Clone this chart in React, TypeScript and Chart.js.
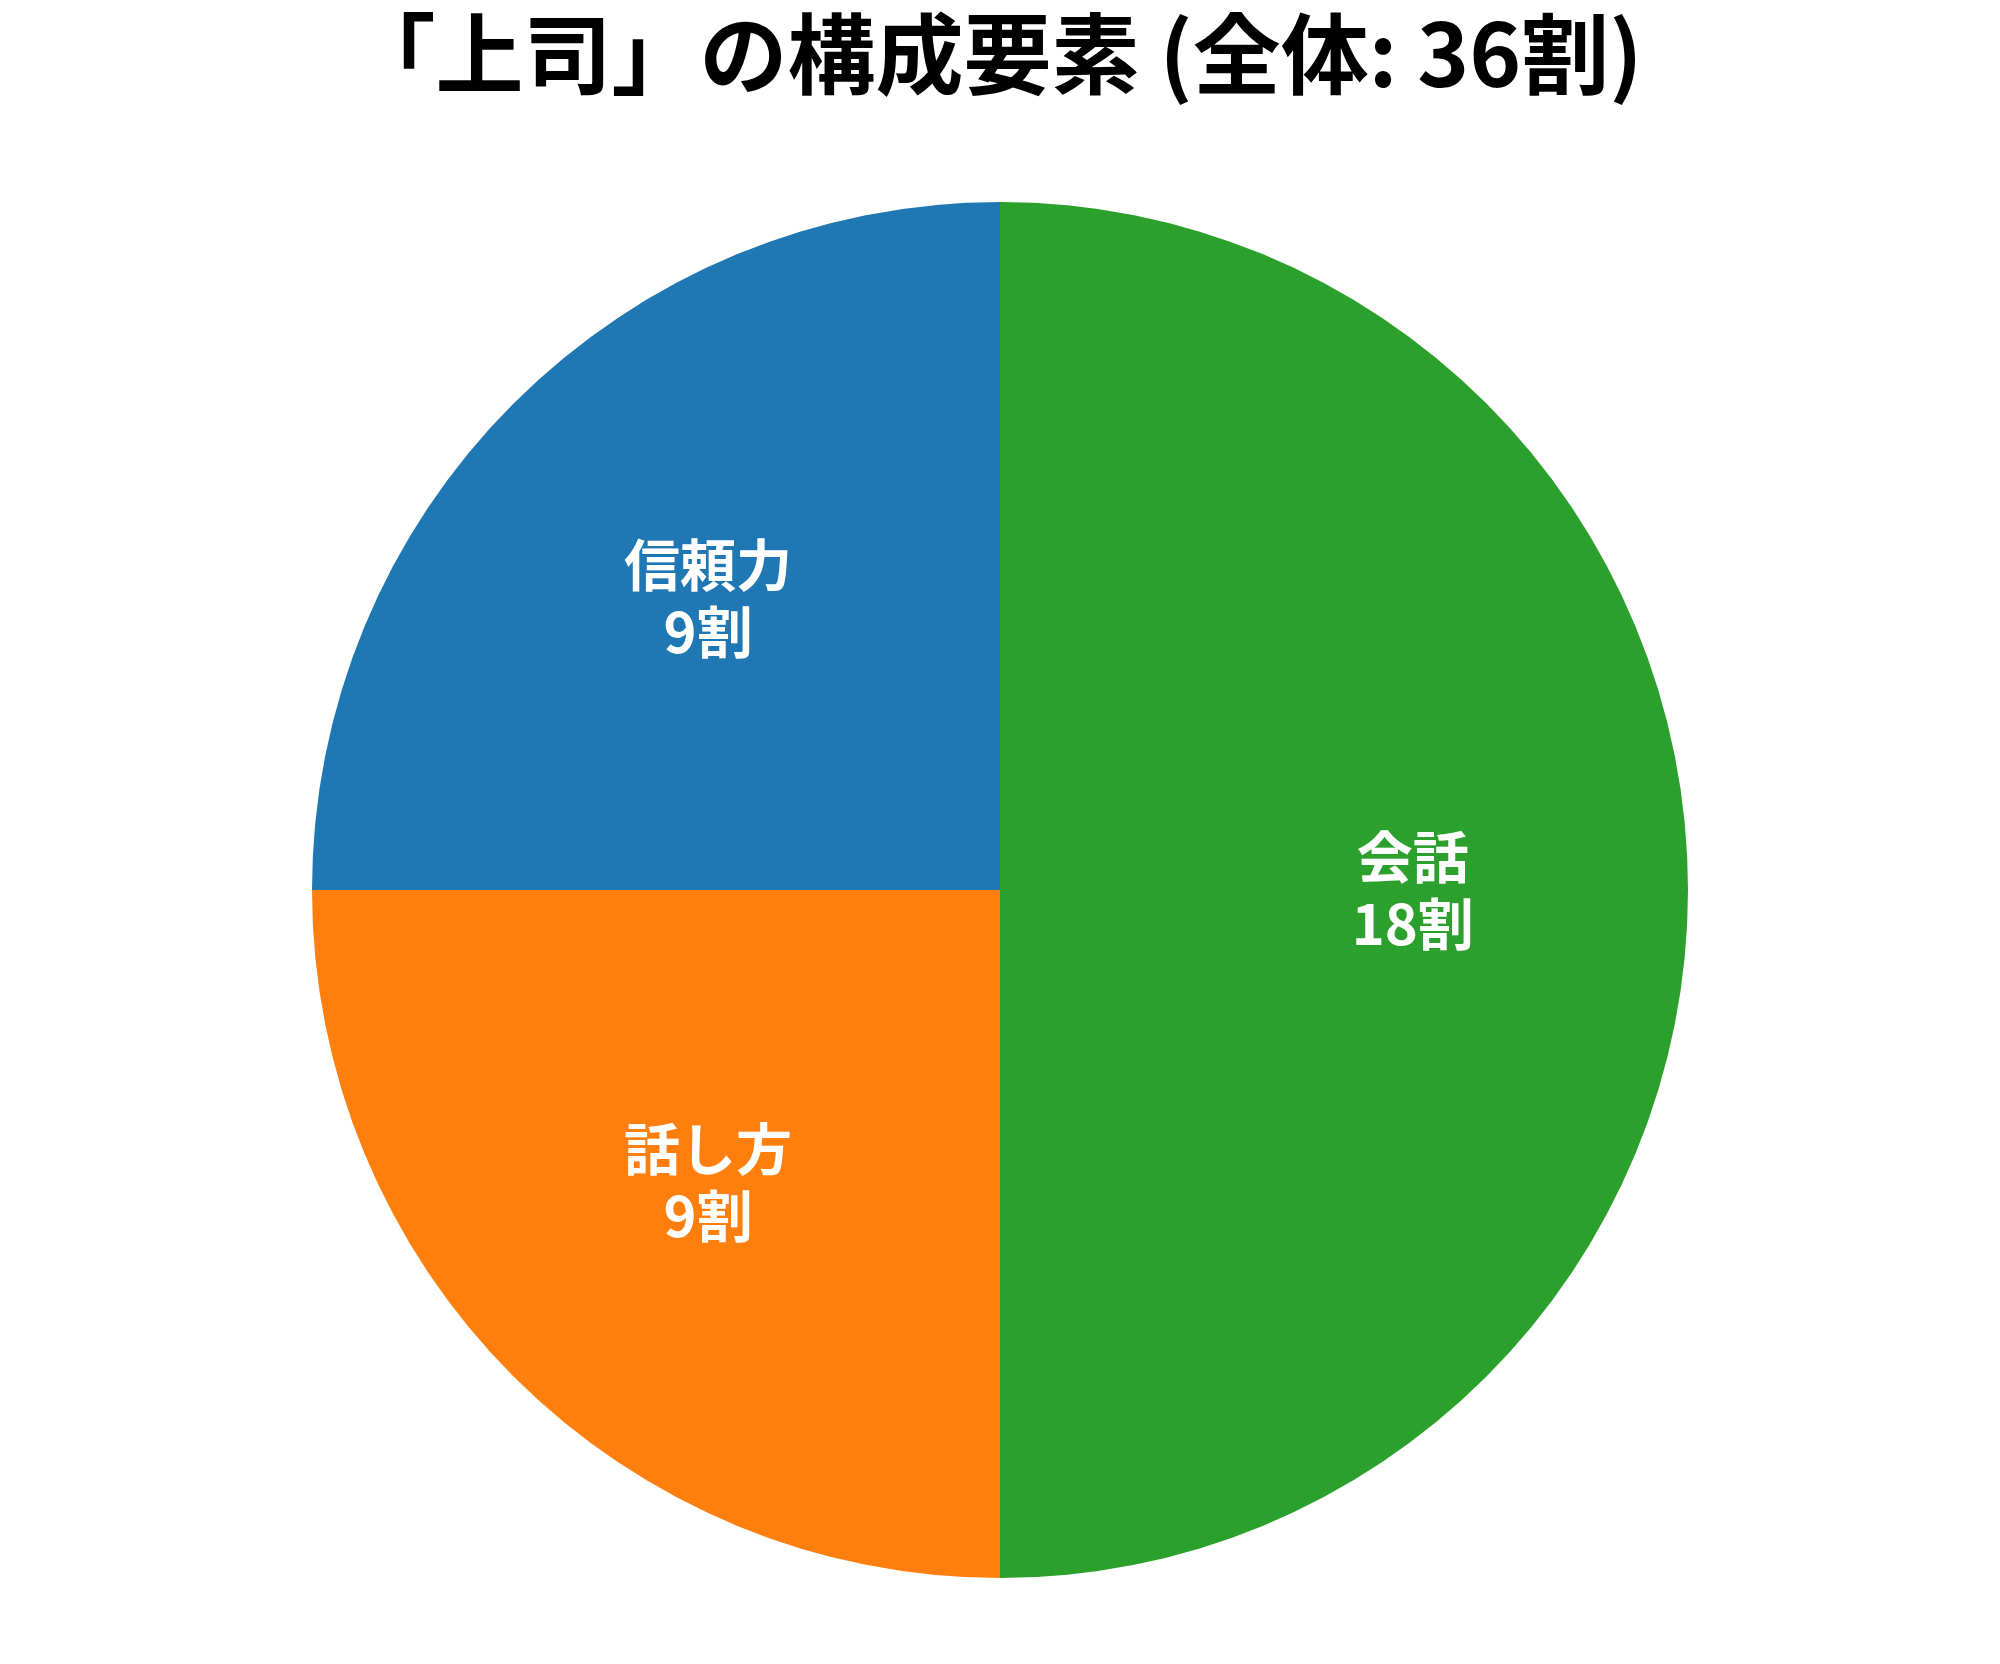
import { useEffect, useRef } from "react";
import { Chart, registerables } from "chart.js";

Chart.register(...registerables);

const labels = ["会話", "話し方", "信頼力"];
const values = [18, 9, 9];
const colors = ["#2ca02c", "#ff7f0e", "#1f77b4"];
const titleText = "「上司」の構成要素 (全体: 36割)";

const FONT = '"Noto Sans CJK JP", "Noto Sans", sans-serif';

const textPlugin = {
  id: "pieText",
  afterDraw(chart: any) {
    const ctx = chart.ctx;
    ctx.save();
    // title
    ctx.fillStyle = "#000000";
    ctx.font = `bold 88px ${FONT}`;
    ctx.textAlign = "center";
    ctx.textBaseline = "alphabetic";
    ctx.fillText(titleText, 995, 87);

    // slice labels at 0.6 of radius
    const meta = chart.getDatasetMeta(0);
    ctx.fillStyle = "#ffffff";
    ctx.font = `bold 56px ${FONT}`;
    ctx.textBaseline = "middle";
    meta.data.forEach((arc: any, i: number) => {
      const { x, y, startAngle, endAngle, outerRadius } = arc.getProps(
        ["x", "y", "startAngle", "endAngle", "outerRadius"],
        true
      );
      const mid = (startAngle + endAngle) / 2;
      const cx = x + Math.cos(mid) * outerRadius * 0.6;
      const cy = y + Math.sin(mid) * outerRadius * 0.6;
      ctx.fillText(labels[i], cx, cy - 33);
      ctx.fillText(`${values[i]}割`, cx, cy + 34);
    });
    ctx.restore();
  },
};

export default function App() {
  const canvasRef = useRef<HTMLCanvasElement | null>(null);

  useEffect(() => {
    document.body.style.margin = "0";
    if (!canvasRef.current) return;
    const chart = new Chart(canvasRef.current.getContext("2d")!, {
      type: "pie",
      data: {
        labels,
        datasets: [
          {
            data: values,
            backgroundColor: colors,
            borderWidth: 0,
          },
        ],
      },
      options: {
        animation: false,
        responsive: true,
        maintainAspectRatio: false,
        devicePixelRatio: 1,
        layout: { padding: { top: 202, bottom: 86, left: 0, right: 0 } },
        plugins: {
          legend: { display: false },
          tooltip: { enabled: false },
          title: { display: false },
        },
      },
      plugins: [textPlugin],
    });
    return () => chart.destroy();
  }, []);

  return (
    <div style={{ width: "2000px", height: "1664px", background: "#ffffff" }}>
      <canvas ref={canvasRef}></canvas>
    </div>
  );
}
